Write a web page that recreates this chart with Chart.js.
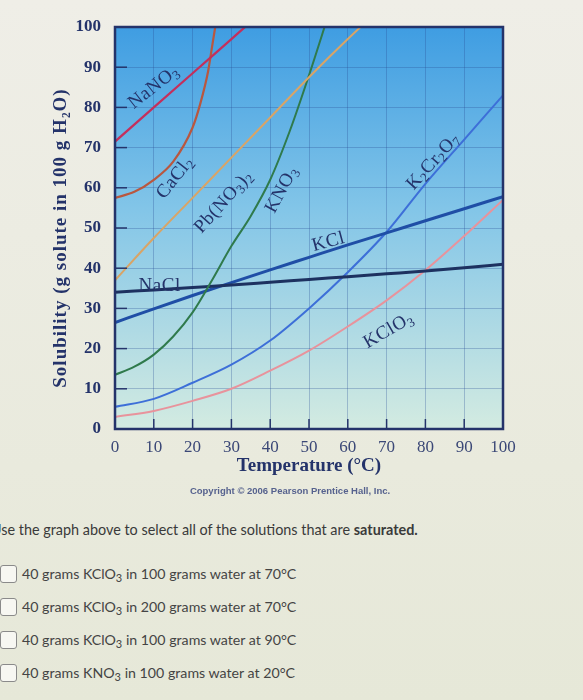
<!DOCTYPE html>
<html>
<head>
<meta charset="utf-8">
<script src="https://cdn.jsdelivr.net/npm/chart.js@4"></script>
<style>
  body { margin:0; width:583px; height:700px; overflow:hidden; position:relative;
         background: linear-gradient(#efeee7, #e6e8d8); font-family: Lato, sans-serif; }
  #wrap { position:absolute; left:0; top:0; width:583px; height:505px; }
  #q { position:absolute; left:-9px; top:521px; font-size:14.4px; color:#3a3a3a; white-space:nowrap; }
  .opt { position:absolute; left:0; font-size:14.2px; color:#444; white-space:nowrap; }
  .box { display:inline-block; width:15px; height:16px; border:1.5px solid #8a8a8a; border-radius:3px;
         background:#f7f7f2; vertical-align:middle; margin-right:5px; position:relative; top:-1px; }
  sub { font-size:11px; vertical-align:-3px; }
</style>
</head>
<body>
<div id="wrap"><canvas id="chart" width="583" height="505"></canvas></div>
<div id="q">Use the graph above to select all of the solutions that are <b>saturated.</b></div>
<div class="opt" style="top:565px"><span class="box"></span>40 grams KClO<sub>3</sub> in 100 grams water at 70°C</div>
<div class="opt" style="top:598px"><span class="box"></span>40 grams KClO<sub>3</sub> in 200 grams water at 70°C</div>
<div class="opt" style="top:631px"><span class="box"></span>40 grams KClO<sub>3</sub> in 100 grams water at 90°C</div>
<div class="opt" style="top:664px"><span class="box"></span>40 grams KNO<sub>3</sub> in 100 grams water at 20°C</div>
<script>
// temperatures (°C) and solubility (g / 100 g water)
const temps = [0, 10, 20, 30, 40, 50, 60, 70, 80, 90, 100];
const nanoTemps = [0, 10, 20, 30, 40];
const nano3 = [71.5, 80, 88.5, 97, 105.5];
const caclTemps = [0, 5, 10, 15, 20, 22, 24, 25, 26];
const cacl2 = [57.5, 59, 62, 66.5, 75, 81, 89, 95, 101];
const pbno3 = [37, 47.5, 57.5, 67.5, 77.5, 87.5, 97, 106, 115, 124, 133];
const knoTemps = [0, 5, 10, 15, 20, 25, 30, 35, 40, 45, 50, 55, 60];
const kno3 = [13.5, 15.5, 18.5, 23, 29, 37, 45.5, 53, 62, 74, 88, 103, 118];
const nacl = [34, 34.6, 35.2, 35.8, 36.5, 37.2, 37.9, 38.6, 39.3, 40.1, 41];
const kcl = [26.5, 29.9, 33.2, 36.4, 39.6, 42.7, 45.8, 48.8, 51.8, 54.8, 57.8];
const k2cr2o7 = [5.5, 7.5, 11.5, 16, 22, 30, 39, 49, 61, 72, 83];
const kclo3 = [3, 4.5, 7, 10, 14.5, 19.5, 25.5, 32, 39.5, 48, 57];

const yTicks = [0, 10, 20, 30, 40, 50, 60, 70, 80, 90, 100];
const xTicks = [0, 10, 20, 30, 40, 50, 60, 70, 80, 90, 100];

// curve labels: text, x, y (data units), angle
const labels = [
  ["NaNO_3", 10, 85, -38],
  ["CaCl_2", 15.5, 62.5, -52],
  ["Pb(NO_3)_2", 28, 56.5, -48],
  ["KNO_3", 43, 59.5, -62],
  ["KCl", 55, 46.5, -15],
  ["NaCl", 11.5, 35.5, 0],
  ["K_2Cr_2O_7", 82, 66.5, -48],
  ["KClO_3", 70.5, 24.5, -30]
];

const NAVY = "#24336a";
const SERIF = "'Liberation Serif', 'DejaVu Serif', serif";

function pts(xs, ys) {
  return xs.map((x, i) => ({ x: x, y: ys[i] }));
}

function line(xs, ys, color, w) {
  return { data: pts(xs, ys), borderColor: color, borderWidth: w, pointRadius: 0,
           cubicInterpolationMode: "monotone", fill: false, clip: 0 };
}

function drawRich(ctx, txt, x, y, angle) {
  // "_" marks the next char as subscript
  const parts = [];
  for (let i = 0; i < txt.length; i++) {
    if (txt[i] === "_") { parts.push([txt[i + 1], true]); i++; }
    else parts.push([txt[i], false]);
  }
  const big = "19px " + SERIF, small = "13px " + SERIF;
  ctx.save();
  ctx.letterSpacing = "0.5px";
  let total = 0;
  parts.forEach(p => { ctx.font = p[1] ? small : big; total += ctx.measureText(p[0]).width; });
  ctx.translate(x, y);
  ctx.rotate(angle * Math.PI / 180);
  ctx.fillStyle = NAVY;
  ctx.textBaseline = "middle";
  let cx = -total / 2;
  parts.forEach(p => {
    ctx.font = p[1] ? small : big;
    ctx.fillText(p[0], cx, p[1] ? 5 : 0);
    cx += ctx.measureText(p[0]).width;
  });
  ctx.restore();
}

const decor = {
  id: "decor",
  beforeDraw(chart) {
    const { ctx, chartArea: a } = chart;
    const g = ctx.createLinearGradient(0, a.top, 0, a.bottom);
    g.addColorStop(0, "#3f9de2");
    g.addColorStop(0.45, "#82c5e8");
    g.addColorStop(1, "#d3ebe1");
    ctx.save();
    ctx.fillStyle = g;
    ctx.fillRect(a.left, a.top, a.right - a.left, a.bottom - a.top);
    ctx.restore();
  },
  afterDraw(chart) {
    const { ctx, chartArea: a, scales } = chart;
    ctx.save();
    ctx.strokeStyle = NAVY;
    ctx.lineWidth = 1.5;
    yTicks.forEach(v => {
      const y = scales.y.getPixelForValue(v);
      ctx.beginPath(); ctx.moveTo(a.left, y); ctx.lineTo(a.left + 12, y); ctx.stroke();
    });
    xTicks.forEach(v => {
      const x = scales.x.getPixelForValue(v);
      ctx.beginPath(); ctx.moveTo(x, a.bottom); ctx.lineTo(x, a.bottom - 10); ctx.stroke();
    });
    ctx.lineWidth = 2.5;
    ctx.strokeRect(a.left, a.top, a.right - a.left, a.bottom - a.top);
    labels.forEach(l => drawRich(ctx, l[0], scales.x.getPixelForValue(l[1]), scales.y.getPixelForValue(l[2]), l[3]));

    // y axis title
    ctx.save();
    ctx.translate(61, 238);
    ctx.rotate(-Math.PI / 2);
    ctx.font = "bold 19px " + SERIF;
    ctx.letterSpacing = "1px";
    ctx.fillStyle = NAVY;
    ctx.textAlign = "center";
    ctx.textBaseline = "middle";
    ctx.fillText("Solubility (g solute in 100 g H\u2082O)", 0, 0);
    ctx.restore();

    ctx.font = "bold 9.5px 'Liberation Sans', sans-serif";
    ctx.fillStyle = "#56628e";
    ctx.textAlign = "center";
    ctx.fillText("Copyright \u00a9 2006 Pearson Prentice Hall, Inc.", 290, 494);
    ctx.restore();
  }
};

new Chart(document.getElementById("chart"), {
  type: "line",
  data: {
    datasets: [
      line(nanoTemps, nano3, "#c42f5c", 2.2),
      line(caclTemps, cacl2, "#b9573f", 2.2),
      line(temps, pbno3, "#d9a466", 2),
      line(knoTemps, kno3, "#2f7a4c", 2),
      line(temps, nacl, "#1d3160", 3),
      line(temps, kcl, "#1f4ea6", 3),
      line(temps, k2cr2o7, "#3d6fd8", 2),
      line(temps, kclo3, "#e8939c", 2)
    ]
  },
  plugins: [decor],
  options: {
    responsive: false,
    animation: false,
    layout: { padding: { left: 46, right: 80, top: 27, bottom: 26 } },
    plugins: { legend: { display: false }, tooltip: { enabled: false } },
    scales: {
      x: {
        type: "linear", min: 0, max: 100,
        afterFit: s => { s.height = 50; },
        afterBuildTicks: s => { s.ticks = xTicks.map(v => ({ value: v })); },
        ticks: { color: "#3b4877", padding: 8, font: { family: SERIF, size: 17 } },
        grid: { color: "rgba(40,75,150,0.3)", drawTicks: false },
        border: { display: false },
        title: { display: true, text: "Temperature (°C)", color: NAVY, padding: 2,
                 font: { family: SERIF, size: 19, weight: "bold" } }
      },
      y: {
        min: 0, max: 100,
        afterFit: s => { s.width = 69; },
        afterBuildTicks: s => { s.ticks = yTicks.map(v => ({ value: v })); },
        ticks: { color: NAVY, padding: 14, font: { family: SERIF, size: 17, weight: "bold" } },
        grid: { color: "rgba(40,75,150,0.3)", drawTicks: false },
        border: { display: false },
        title: { display: false }
      }
    }
  }
});
</script>
</body>
</html>
